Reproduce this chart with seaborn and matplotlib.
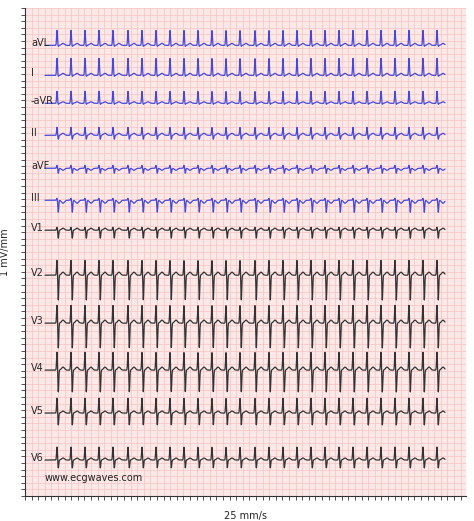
import numpy as np
import pandas as pd
import matplotlib
matplotlib.use("Agg")
import matplotlib.pyplot as plt
import seaborn as sns

leads = ["aVL", "I", "-aVR", "II", "aVF", "III", "V1", "V2", "V3", "V4", "V5", "V6"]
baselines = [476, 446, 418, 386, 353, 321, 291, 246, 198, 151, 108, 61]
r_amp = [15, 17, 12, 8, 3, 2, 3, 15, 18, 18, 15, 13]
s_amp = [1, 1, 1, 4, 5, 12, 8, 25, 25, 22, 12, 8]
t_amp = [2, 2, 1.5, 2, -2, -3, 2, 3, 3, 3, 2, 2]
colors = ["#4848d8"] * 6 + ["#333333"] * 6
beat_x = [57, 71, 85, 99, 113, 128, 142, 156, 170, 184, 198, 212, 226, 240,
          255, 269, 283, 297, 311, 325, 339, 353, 367, 381, 395, 409, 423, 437]

sns.set_style("white")
fig = plt.figure(figsize=(4.74, 5.21), dpi=100)
ax = fig.add_axes([25/474, 25/521, 441/474, 488/521])
ax.set_facecolor("#fde8e8")

x = np.linspace(45, 445, 2400)
for i, lead in enumerate(leads):
    y = np.zeros_like(x)
    for b in beat_x:
        y += r_amp[i] * np.exp(-((x - b) / 0.6) ** 2)
        y -= s_amp[i] * np.exp(-((x - b - 1.3) / 0.6) ** 2)
        y += t_amp[i] * np.exp(-((x - b - 6) / 2.0) ** 2)
    df = pd.DataFrame({"x": x, "y": y + baselines[i]})
    sns.lineplot(data=df, x="x", y="y", ax=ax, color=colors[i], lw=0.9,
                 estimator=None, sort=False)
    ax.text(31, baselines[i] + 2, lead, fontsize=7, va="center", ha="left")

ax.text(45, 40, "www.ecgwaves.com", fontsize=7, color="#222222")
ax.set_xlim(25, 466)
ax.set_ylim(25, 513)
step = 6.6
for v in np.arange(25, 467, step):
    ax.axvline(v, color="#f3c4c4", lw=0.5, zorder=0)
for v in np.arange(25, 514, step):
    ax.axhline(v, color="#f3c4c4", lw=0.5, zorder=0)
ax.set_xticks(np.arange(25, 467, step))
ax.set_yticks(np.arange(25, 514, step))
ax.set_xticklabels([])
ax.set_yticklabels([])
ax.tick_params(direction="out", length=3, width=0.6, bottom=True, left=True, color="#333333")
ax.set_xlabel("25 mm/s", fontsize=7)
ax.set_ylabel("1 mV/mm", fontsize=7)
for s in ["top", "right"]:
    ax.spines[s].set_visible(False)
for s in ["left", "bottom"]:
    ax.spines[s].set_color("#333333")
fig.savefig("out.png", dpi=100)
